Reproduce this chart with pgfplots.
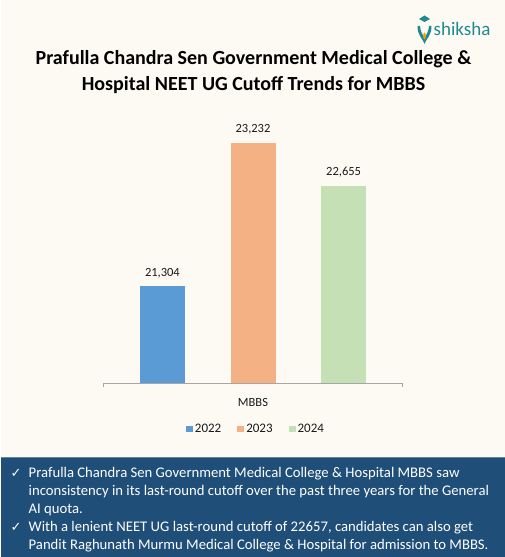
\documentclass[border=0pt]{standalone}
\usepackage{pgfplots}
\pgfplotsset{compat=1.18}
\usepackage{fontspec}
\setmainfont{Carlito}
\newfontfamily\dejavu{DejaVu Sans}
\definecolor{bgc}{HTML}{FDFAF4}
\definecolor{boxc}{HTML}{1F4E79}
\definecolor{c22}{HTML}{5B9BD5}
\definecolor{c23}{HTML}{F4B183}
\definecolor{c24}{HTML}{C5E0B4}
\definecolor{teal}{HTML}{1E8C8E}
\definecolor{lbl}{HTML}{1A1A1A}
\begin{document}
\begin{tikzpicture}[x=1bp,y=1bp]
\fill[bgc] (0,0) rectangle (504,557);
\fill[boxc] (0,0) rectangle (504,99);
\draw[boxc!70!white, line width=1bp] (0,99) -- (504,99);
% title
\node[anchor=base, font=\fontsize{20bp}{26bp}\selectfont\bfseries, text=black] at (253,492) {Prafulla Chandra Sen Government Medical College \&};
\node[anchor=base, font=\fontsize{20bp}{26bp}\selectfont\bfseries, text=black] at (253,466) {Hospital NEET UG Cutoff Trends for MBBS};
% logo
\node[anchor=base west, font=\fontsize{19bp}{20bp}\selectfont, text=teal, inner sep=0] at (433,521) {shiksha};
\fill[teal] (417,531) .. controls (417,521) and (422,519) .. (424,513) .. controls (426,519) and (431,521) .. (431,531) -- (428.5,531) .. controls (428,525) and (426,523) .. (424,519) .. controls (422,523) and (420,525) .. (419.5,531) -- cycle;
\fill[orange!80!yellow] (424,521) ellipse (1.3 and 3.5);
\fill[teal] (418.5,538) -- (424,541.5) -- (429.5,538) -- (424,535) -- cycle;
% bottom text
\begin{scope}[every node/.style={anchor=base west, inner sep=0, text=white, font=\fontsize{14.7bp}{18bp}\selectfont}]
\node[font=\dejavu\fontsize{13bp}{14bp}\selectfont] at (10,79) {✓};
\node at (28,79) {Prafulla Chandra Sen Government Medical College \& Hospital MBBS saw};
\node at (28,61) {inconsistency in its last-round cutoff over the past three years for the General};
\node at (28,43) {AI quota.};
\node[font=\dejavu\fontsize{13bp}{14bp}\selectfont] at (10,25) {✓};
\node at (28,25) {With a lenient NEET UG last-round cutoff of 22657, candidates can also get};
\node at (28,7) {Pandit Raghunath Murmu Medical College \& Hospital for admission to MBBS.};
\end{scope}
\begin{axis}[
  at={(103bp,174bp)}, anchor=south west,
  width=299bp, height=260bp, scale only axis,
  xmin=-0.65, xmax=2.65, ymin=20000, ymax=23500,
  hide y axis,
  axis x line*=bottom,
  x axis line style={draw=gray!70, line width=0.8bp, -},
  xtick={1}, xticklabels={MBBS},
  major tick length=0pt,
  extra x ticks={-0.65,2.65}, extra x tick labels={},
  extra x tick style={major tick length=4bp, xtick align=outside, tick style={draw=gray!70, line width=0.8bp}},
  xticklabel style={font=\fontsize{12.5bp}{14bp}\selectfont, text=lbl, yshift=-12bp},
  ybar, bar width=45bp, bar shift=0pt,
  /pgf/number format/1000 sep={,},
  /pgf/number format/assume math mode=true,
  nodes near coords,
  every node near coord/.append style={font=\fontsize{12.5bp}{14bp}\selectfont, text=lbl, yshift=5bp},
  legend columns=3,
  legend style={at={(0.51,-0.177)}, anchor=center, draw=none, fill=none,
    font=\fontsize{13bp}{15bp}\selectfont, text=lbl,
    /tikz/every even column/.append style={column sep=14bp}},
  legend image code/.code={\fill[#1, draw=none] (0bp,-3.4bp) rectangle (7bp,3.4bp);},
  clip=false,
]
\addplot[fill=c22, draw=none] coordinates {(0,21304)};
\addplot[fill=c23, draw=none] coordinates {(1,23232)};
\addplot[fill=c24, draw=none] coordinates {(2,22655)};
\legend{2022,2023,2024}
\end{axis}
\end{tikzpicture}
\end{document}
